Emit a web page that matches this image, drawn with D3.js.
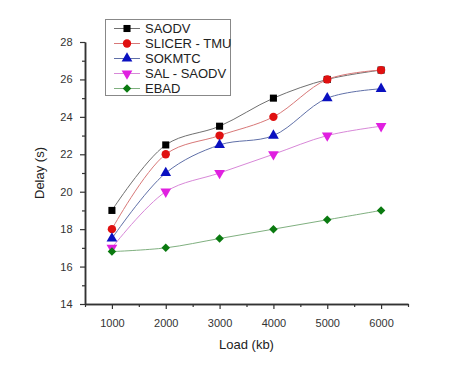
<!DOCTYPE html>
<html><head><meta charset="utf-8">
<script src="https://cdn.jsdelivr.net/npm/d3@7"></script>
<style>body{margin:0;background:#fff;}svg{display:block;font-family:Arial,"Liberation Sans",sans-serif;}</style>
</head><body><svg id="c" width="474" height="365"></svg>
<script>
const loads = [1000, 2000, 3000, 4000, 5000, 6000];
const seriesNames = ["SAODV", "SLICER - TMU", "SOKMTC", "SAL - SAODV", "EBAD"];
const saodv  = [19, 22.5, 23.5, 25, 26, 26.5];
const slicer = [18, 22, 23, 24, 26, 26.5];
const sokmtc = [17.5, 21, 22.5, 23, 25, 25.5];
const salSaodv = [17, 20, 21, 22, 23, 23.5];
const ebad   = [16.8, 17, 17.5, 18, 18.5, 19];
const yTicks = [14, 16, 18, 20, 22, 24, 26, 28];
const xTicks = [1000, 2000, 3000, 4000, 5000, 6000];

const seriesValues = [saodv, slicer, sokmtc, salSaodv, ebad];
const markerColors = ["#000000", "#e01010", "#0a10c0", "#e020e0", "#0a7a10"];
const lineColors = ["#707070", "#d87878", "#6070a8", "#d888d8", "#80b080"];
const symbols = ["square", "circle", "up", "down", "diamond"];

const svg = d3.select("#c");
const m = {l: 85, r: 408, t: 42, b: 304};
const x = d3.scaleLinear().domain([500, 6500]).range([m.l, m.r]);
const y = d3.scaleLinear().domain([14, 28]).range([m.b, m.t]);

// axes
const xAxis = svg.append("g").attr("transform", `translate(0,${m.b})`)
  .call(d3.axisBottom(x).tickValues(xTicks).tickFormat(d3.format("d")).tickSize(5).tickSizeOuter(0));
const xMinor = svg.append("g").attr("transform", `translate(0,${m.b})`)
  .call(d3.axisBottom(x).tickValues(d3.range(500, 6501, 500).filter(v => v % 1000 !== 0)).tickFormat("").tickSize(3).tickSizeOuter(0));
const yAxis = svg.append("g").attr("transform", `translate(${m.l},0)`)
  .call(d3.axisLeft(y).tickValues(yTicks).tickSize(5).tickSizeOuter(0));
const yMinor = svg.append("g").attr("transform", `translate(${m.l},0)`)
  .call(d3.axisLeft(y).tickValues(d3.range(15, 28, 2)).tickFormat("").tickSize(3).tickSizeOuter(0));
[xAxis, xMinor, yAxis, yMinor].forEach(g => {
  g.select(".domain").attr("stroke", "#333").attr("stroke-width", 1.5);
  g.selectAll(".tick line").attr("stroke", "#333").attr("stroke-width", 1.2);
  g.selectAll(".tick text").attr("fill", "#333").style("font-size", "11px");
});
xAxis.selectAll(".tick text").attr("dy", "1.35em");
yAxis.selectAll(".tick text").attr("dx", "-0.4em");

svg.append("text").attr("x", (m.l + m.r) / 2).attr("y", 349).attr("text-anchor", "middle")
  .attr("fill", "#222").style("font-size", "13px").text("Load (kb)");
svg.append("text").attr("transform", `translate(44,${(m.t + m.b) / 2}) rotate(-90)`)
  .attr("text-anchor", "middle").attr("fill", "#222").style("font-size", "13px").text("Delay (s)");

function symPath(s) {
  if (s === "square") return d3.symbol(d3.symbolSquare, 50)();
  if (s === "circle") return d3.symbol(d3.symbolCircle, 55)();
  if (s === "diamond") return d3.symbol(d3.symbolSquare, 36)();
  return d3.symbol(d3.symbolTriangle, 50)();
}
function symTransform(s) {
  if (s === "down") return " rotate(180)";
  if (s === "diamond") return " rotate(45)";
  return "";
}

const line = d3.line().x((d, i) => x(loads[i])).y(d => y(d)).curve(d3.curveCatmullRom.alpha(0.5));

seriesValues.forEach((vals, k) => {
  svg.append("path").attr("d", line(vals)).attr("fill", "none")
    .attr("stroke", lineColors[k]).attr("stroke-width", 1);
});
seriesValues.forEach((vals, k) => {
  svg.append("g").selectAll("path").data(vals).join("path")
    .attr("d", symPath(symbols[k]))
    .attr("transform", (d, i) => `translate(${x(loads[i])},${y(d)})` + symTransform(symbols[k]))
    .attr("fill", markerColors[k]);
});

// legend
const lg = svg.append("g");
lg.append("rect").attr("x", 105.5).attr("y", 19.5).attr("width", 125).attr("height", 76)
  .attr("fill", "#fff").attr("stroke", "#888").attr("stroke-width", 1);
seriesNames.forEach((name, k) => {
  const yy = 28.5 + k * 15;
  lg.append("line").attr("x1", 114).attr("x2", 140).attr("y1", yy).attr("y2", yy)
    .attr("stroke", lineColors[k]).attr("stroke-width", 1);
  lg.append("path").attr("d", symPath(symbols[k]))
    .attr("transform", `translate(127,${yy})` + symTransform(symbols[k])).attr("fill", markerColors[k]);
  lg.append("text").attr("x", 145).attr("y", yy).attr("dy", "0.36em")
    .attr("fill", "#222").style("font-size", "13px").text(name);
});
</script></body></html>
